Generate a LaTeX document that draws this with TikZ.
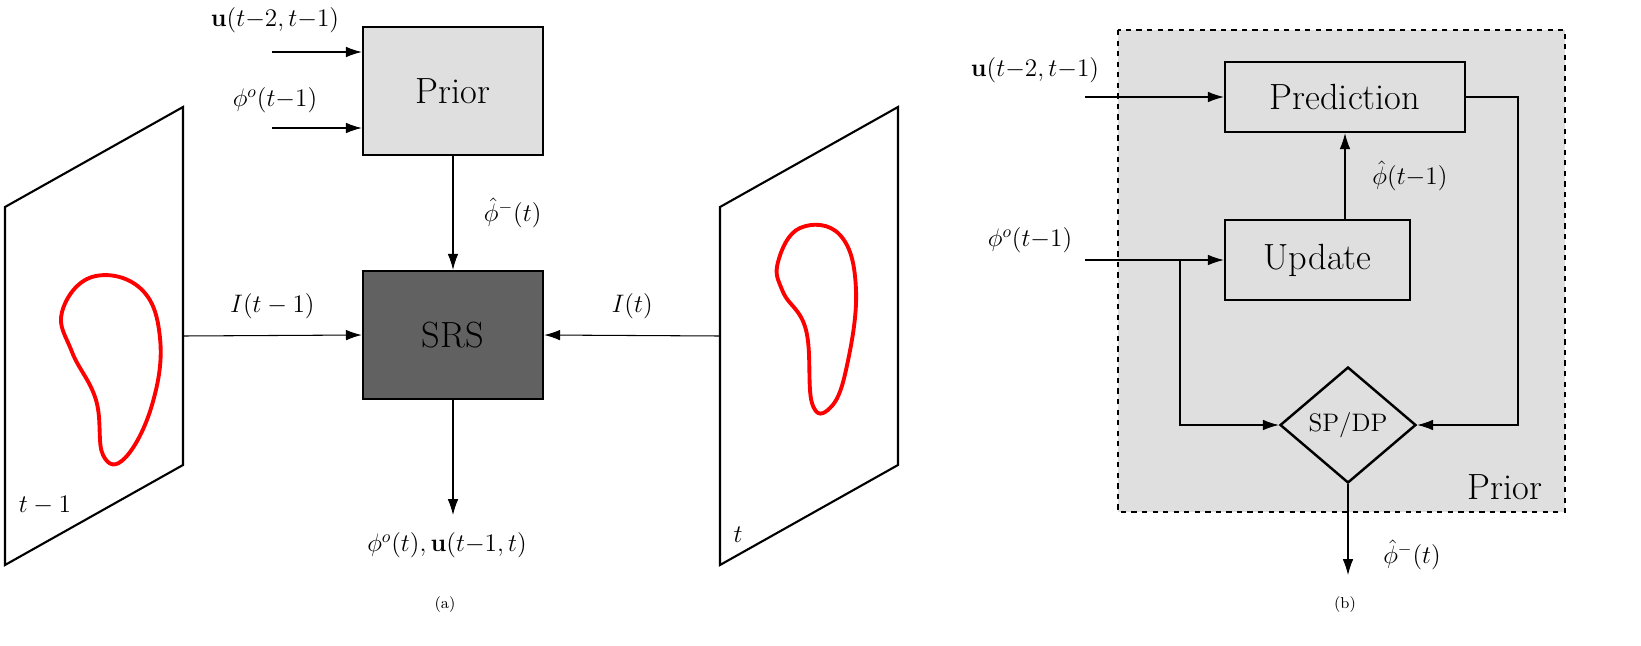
\documentclass[tikz,border=0pt]{standalone}
\usetikzlibrary{arrows.meta,shapes.geometric}
\begin{document}
\begin{tikzpicture}[x=0.02cm,y=-0.02cm,
  blk/.style={draw,line width=1.4pt,minimum width=3.6cm,minimum height=2.56cm,font=\huge},
  blkb/.style={draw,line width=1.4pt,fill=gray!25,font=\huge,inner sep=0pt},
  arr/.style={-{Latex[length=9pt,width=6pt]},line width=0.6pt},
  lbl/.style={font=\Large},
  plane/.style={draw,line width=1.2pt,fill=white},
  blob/.style={draw=red,line width=2.2pt}]
\useasboundingbox (0,0) rectangle (1641,646);
% (a)
\node[blk,fill=gray!25] (prior) at (453,91) {Prior};
\node[blk,fill=black!62] (srs) at (453,335) {SRS};
\coordinate (i1) at (272,52); \coordinate (i2) at (272,128);
\draw[arr] (i1) -- (i1 -| prior.west);
\draw[arr] (i2) -- (i2 -| prior.west);
\node[lbl] (l1) at (275,20) {$\mathbf{u}(t{-}2,t{-}1)$};
\node[lbl] (l2) at (275,100) {$\phi^o(t{-}1)$};
\draw[arr] (prior) -- (srs) node[lbl,midway,right=14pt] {$\hat\phi^-(t)$};
\draw[plane] (5,207) -- (183,107) -- (183,465) -- (5,565) -- cycle;
\draw[plane] (720,207) -- (898,107) -- (898,465) -- (720,565) -- cycle;
\node[lbl] (t1) at (45,505) {$t-1$};
\node[lbl] (t2) at (738,535) {$t$};
\coordinate (pl) at (183,336); \coordinate (pr) at (720,336);
\draw[arr] (pl) -- (srs.west) node[lbl,midway,above=6pt] {$I(t-1)$};
\draw[arr] (pr) -- (srs.east) node[lbl,midway,above=6pt] {$I(t)$};
\coordinate (so) at (453,515);
\draw[arr] (srs) -- (so);
\node[lbl] (out) at (447,545) {$\phi^o(t),\mathbf{u}(t{-}1,t)$};
\draw[blob] plot[smooth cycle,tension=0.7] coordinates {(62,312) (92,277) (140,288) (160,338) (152,405) (125,458) (103,455) (96,400) (72,352)};
\draw[blob] plot[smooth cycle,tension=0.7] coordinates {(778,262) (800,228) (840,235) (856,290) (846,370) (830,408) (812,403) (806,330) (783,292)};
\node[font=\small] (ca) at (445,605) {(a)};
% (b)
\draw[dashed,fill=gray!25,line width=0.6pt] (1118,30) rectangle (1565,512);
\node[font=\huge] (pt) at (1505,487) {Prior};
\node[blkb,minimum width=4.8cm,minimum height=1.4cm] (pred) at (1345,97) {Prediction};
\node[blkb,minimum width=3.7cm,minimum height=1.6cm] (upd) at (1317.5,260) {Update};
\node[diamond,draw,line width=1.4pt,minimum width=2.72cm,minimum height=2.32cm,inner sep=0pt,font=\Large,aspect=1.15] (dp) at (1348,425) {SP/DP};
\coordinate (b1) at (1085,97); \coordinate (b2) at (1085,260);
\draw[arr] (b1) -- (pred.west);
\draw[arr] (b2) -- (upd.west);
\node[lbl] (bl1) at (1035,70) {$\mathbf{u}(t{-}2,t{-}1)$};
\node[lbl] (bl2) at (1030,240) {$\phi^o(t{-}1)$};
\draw[arr] (upd.north -| pred.south) -- (pred.south) node[lbl,midway,right=12pt] {$\hat\phi(t{-}1)$};
\draw[arr] (1180,260) -- (1180,425) -- (dp.west);
\draw[arr] (pred.east) -| (1518,425) -- (dp.east);
\coordinate (bo) at (1348,575);
\draw[arr] (dp.south) -- (bo);
\node[lbl] (bo2) at (1412,555) {$\hat\phi^-(t)$};
\node[font=\small] (cb) at (1345,605) {(b)};
\end{tikzpicture}
\end{document}
